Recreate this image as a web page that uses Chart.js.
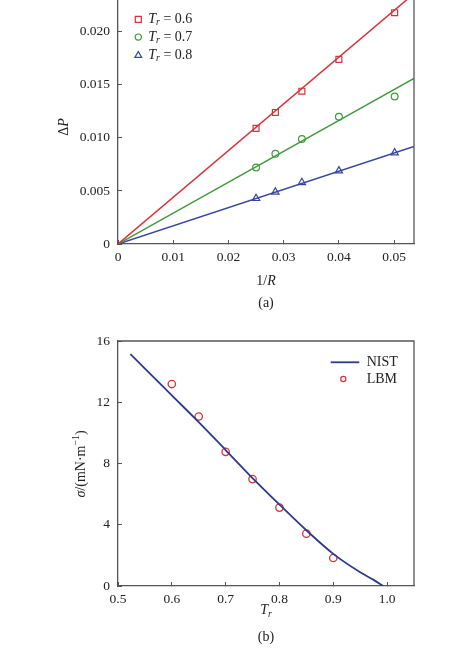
<!DOCTYPE html>
<html>
<head>
<meta charset="utf-8">
<script src="https://cdn.jsdelivr.net/npm/chart.js@4.4.0/dist/chart.umd.min.js"></script>
<style>
  html, body { margin: 0; padding: 0; background: #fff; }
  #wrap { position: relative; width: 474px; height: 651px; overflow: hidden; }
  .box { position: absolute; left: 0; width: 474px; }
  #boxA { top: 0; height: 320px; }
  #boxB { top: 320px; height: 331px; }
</style>
</head>
<body>
<div id="wrap">
  <div class="box" id="boxA"><canvas id="chartA"></canvas></div>
  <div class="box" id="boxB"><canvas id="chartB"></canvas></div>
</div>
<script>
// (a) pressure difference vs 1/R
const invR = [0.025, 0.0285, 0.0333, 0.04, 0.0501];
const dpTr06 = [0.0109, 0.0124, 0.0144, 0.0174, 0.0218];
const dpTr07 = [0.0072, 0.0085, 0.0099, 0.0120, 0.0139];
const dpTr08 = [0.0043, 0.0049, 0.0058, 0.0069, 0.0086];
const fitX = [0, 0.0536];
const fitTr06 = [0, 0.0236];
const fitTr07 = [0, 0.0156];
const fitTr08 = [0, 0.0092];
const xTicksA = [0, 0.01, 0.02, 0.03, 0.04, 0.05];
const xLabelsA = ["0", "0.01", "0.02", "0.03", "0.04", "0.05"];
const yTicksA = [0, 0.005, 0.01, 0.015, 0.02];
const yLabelsA = ["0", "0.005", "0.010", "0.015", "0.020"];

// (b) surface tension vs Tr
const trLbm = [0.6, 0.65, 0.7, 0.75, 0.8, 0.85, 0.9];
const sigmaLbm = [13.19, 11.07, 8.76, 6.98, 5.12, 3.42, 1.83];
const trNist = [0.523, 0.55, 0.6, 0.65, 0.7, 0.75, 0.8, 0.85, 0.9, 0.95, 0.975, 0.993];
const sigmaNist = [15.15, 14.2, 12.45, 10.7, 8.88, 7.05, 5.32, 3.64, 2.1, 0.9, 0.4, 0];
const xTicksB = [0.5, 0.6, 0.7, 0.8, 0.9, 1.0];
const xLabelsB = ["0.5", "0.6", "0.7", "0.8", "0.9", "1.0"];
const yTicksB = [0, 4, 8, 12, 16];
const yLabelsB = ["0", "4", "8", "12", "16"];

const serif = '"Liberation Serif", "Times New Roman", serif';
const axisColor = '#555';
const red = '#d8323c';
const green = '#3f9a3c';
const blue = '#3845a0';
const navy = '#2c3a8c';

function pts(xs, ys) {
    return xs.map((x, i) => ({x: x, y: ys[i]}));
}

function axis(min, max, ticks, labels, isY, size, pad) {
    return {
        type: 'linear', min: min, max: max,
        border: {color: axisColor, width: 1.3},
        grid: {drawOnChartArea: false, drawTicks: true, tickLength: -4, color: axisColor, lineWidth: 1},
        ticks: {
            color: '#222', font: {family: serif, size: 13.5}, padding: pad,
            maxRotation: 0, autoSkip: false,
            callback: (v, i) => labels[i]
        },
        afterBuildTicks: s => { s.ticks = ticks.map(v => ({value: v})); },
        afterFit: s => {
            if (isY) s.width = size; else s.height = size;
            s.paddingTop = 0; s.paddingBottom = 0; s.paddingLeft = 0; s.paddingRight = 0;
        }
    };
}

// text with italic / sub / sup pieces
function drawRich(ctx, parts, x, y, size, align, rotate) {
    const fontFor = k => {
        const s = (k === 'sub' || k === 'sup') ? size * 0.7 : size;
        const it = (k === 'i' || k === 'sub') ? 'italic ' : '';
        return it + s + 'px ' + serif;
    };
    let w = 0;
    parts.forEach(p => { ctx.font = fontFor(p[1]); w += ctx.measureText(p[0]).width; });
    ctx.save();
    ctx.translate(x, y);
    if (rotate) ctx.rotate(rotate);
    let cx = align === 'left' ? 0 : -w / 2;
    ctx.textBaseline = 'middle';
    ctx.fillStyle = '#222';
    parts.forEach(p => {
        ctx.font = fontFor(p[1]);
        const dy = p[1] === 'sub' ? size * 0.25 : (p[1] === 'sup' ? -size * 0.3 : 0);
        ctx.fillText(p[0], cx, dy);
        cx += ctx.measureText(p[0]).width;
    });
    ctx.restore();
}

function marker(ctx, style, x, y, r, color) {
    ctx.save();
    ctx.strokeStyle = color;
    ctx.lineWidth = 1.2;
    ctx.beginPath();
    if (style === 'rect') {
        ctx.rect(x - r, y - r, 2 * r, 2 * r);
    } else if (style === 'circle') {
        ctx.arc(x, y, r, 0, Math.PI * 2);
    } else {
        ctx.moveTo(x, y - r * 1.1);
        ctx.lineTo(x + r * 1.1, y + r * 0.8);
        ctx.lineTo(x - r * 1.1, y + r * 0.8);
        ctx.closePath();
    }
    ctx.stroke();
    ctx.restore();
}

//chart (a)
const extrasA = {
    id: 'extrasA',
    afterDraw(chart) {
        const ctx = chart.ctx;
        const a = chart.chartArea;
        ctx.save();
        ctx.strokeStyle = axisColor;
        ctx.lineWidth = 1.3;
        ctx.beginPath();
        ctx.moveTo(a.right, a.top);
        ctx.lineTo(a.right, a.bottom);
        ctx.stroke();
        ctx.restore();

        const rows = [['rect', red, '0.6'], ['circle', green, '0.7'], ['triangle', blue, '0.8']];
        rows.forEach((r, i) => {
            const y = 19.3 + i * 17.8;
            marker(ctx, r[0], 138.3, y, r[0] === 'rect' ? 3 : 3.1, r[1]);
            drawRich(ctx, [['T', 'i'], ['r', 'sub'], [' = ' + r[2], '']], 148.3, y, 14, 'left');
        });

        drawRich(ctx, [['1/', ''], ['R', 'i']], 266, 281, 14);
        drawRich(ctx, [['(a)', '']], 266, 303, 14);
        drawRich(ctx, [['Δ', ''], ['P', 'i']], 64, 127, 14, 'center', -Math.PI / 2);
    }
};

new Chart(document.getElementById('chartA'), {
    type: 'scatter',
    data: {
        datasets: [
            {data: pts(fitX, fitTr06), showLine: true, borderColor: red, borderWidth: 1.5, pointRadius: 0},
            {data: pts(fitX, fitTr07), showLine: true, borderColor: green, borderWidth: 1.5, pointRadius: 0},
            {data: pts(fitX, fitTr08), showLine: true, borderColor: blue, borderWidth: 1.5, pointRadius: 0},
            {data: pts(invR, dpTr06), pointStyle: 'rect', pointRadius: 4.2, borderColor: red, borderWidth: 1.2, backgroundColor: 'rgba(0,0,0,0)'},
            {data: pts(invR, dpTr07), pointStyle: 'circle', pointRadius: 3.4, borderColor: green, borderWidth: 1.2, backgroundColor: 'rgba(0,0,0,0)'},
            {data: pts(invR, dpTr08), pointStyle: 'triangle', pointRadius: 4.2, borderColor: blue, borderWidth: 1.2, backgroundColor: 'rgba(0,0,0,0)'}
        ]
    },
    options: {
        responsive: true,
        maintainAspectRatio: false,
        animation: false,
        layout: {autoPadding: false, padding: {left: 0, right: 60, top: 0, bottom: 0}},
        scales: {
            x: axis(0, 0.0536, xTicksA, xLabelsA, false, 76, 9),
            y: axis(0, 0.023, yTicksA, yLabelsA, true, 118, 12)
        },
        plugins: {legend: {display: false}, tooltip: {enabled: false}}
    },
    plugins: [extrasA]
});

//chart (b)
const extrasB = {
    id: 'extrasB',
    afterDraw(chart) {
        const ctx = chart.ctx;
        const a = chart.chartArea;
        ctx.save();
        ctx.strokeStyle = axisColor;
        ctx.lineWidth = 1.3;
        ctx.beginPath();
        ctx.moveTo(a.left, a.top);
        ctx.lineTo(a.right, a.top);
        ctx.lineTo(a.right, a.bottom);
        ctx.stroke();

        ctx.strokeStyle = navy;
        ctx.lineWidth = 1.8;
        ctx.beginPath();
        ctx.moveTo(330.7, 42.3);
        ctx.lineTo(359.3, 42.3);
        ctx.stroke();
        ctx.restore();
        marker(ctx, 'circle', 343.3, 59, 2.6, red);
        drawRich(ctx, [['NIST', '']], 366.7, 42.3, 14, 'left');
        drawRich(ctx, [['LBM', '']], 366.7, 59, 14, 'left');

        drawRich(ctx, [['T', 'i'], ['r', 'sub']], 266, 290.7, 14);
        drawRich(ctx, [['(b)', '']], 266, 317, 14);
        drawRich(ctx, [['σ', 'i'], ['/(mN·m', ''], ['−1', 'sup'], [')', '']], 81, 144, 14, 'center', -Math.PI / 2);
    }
};

new Chart(document.getElementById('chartB'), {
    type: 'scatter',
    data: {
        datasets: [
            {data: pts(trNist, sigmaNist), showLine: true, cubicInterpolationMode: 'monotone', borderColor: navy, borderWidth: 1.8, pointRadius: 0},
            {data: pts(trLbm, sigmaLbm), pointStyle: 'circle', pointRadius: 3.7, borderColor: red, borderWidth: 1.3, backgroundColor: 'rgba(0,0,0,0)'}
        ]
    },
    options: {
        responsive: true,
        maintainAspectRatio: false,
        animation: false,
        layout: {autoPadding: false, padding: {left: 0, right: 60, top: 21, bottom: 0}},
        scales: {
            x: axis(0.5, 1.05, xTicksB, xLabelsB, false, 65, 9),
            y: axis(0, 16, yTicksB, yLabelsB, true, 118, 12)
        },
        plugins: {legend: {display: false}, tooltip: {enabled: false}}
    },
    plugins: [extrasB]
});
</script>
</body>
</html>
